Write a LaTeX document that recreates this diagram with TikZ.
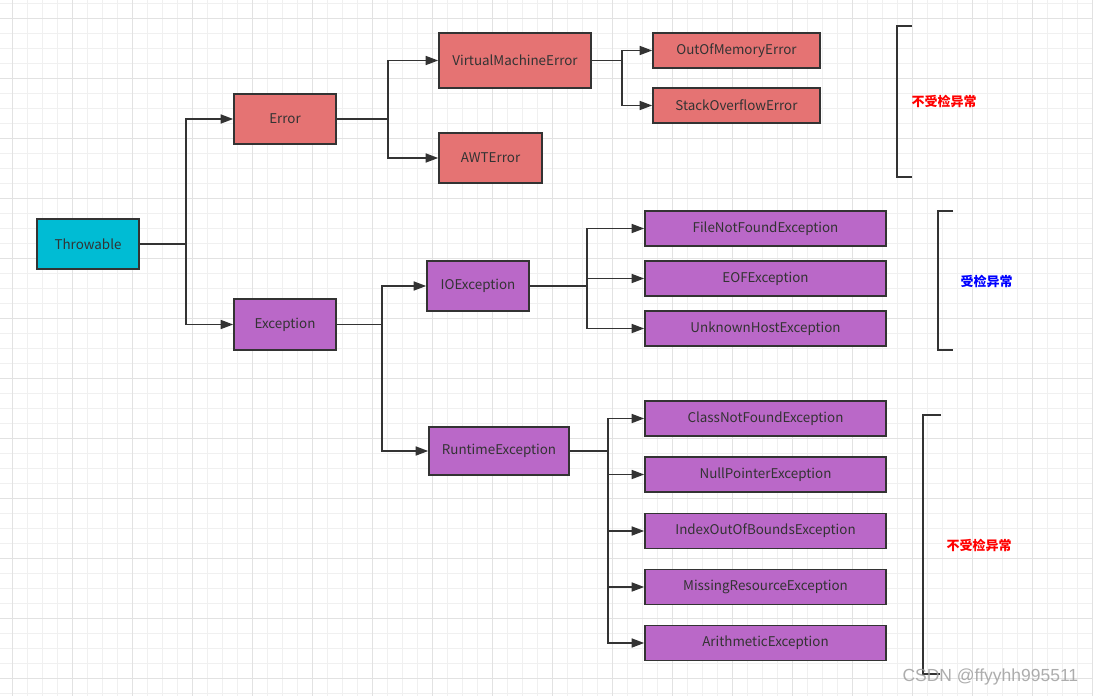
\documentclass[tikz,border=0pt]{standalone}
\usepackage{fontspec}
\setmainfont{Noto Sans CJK SC}
\newfontfamily\wmfont{Liberation Sans}
\usetikzlibrary{arrows.meta}
\definecolor{errfill}{HTML}{E57373}
\definecolor{excfill}{HTML}{BA68C8}
\definecolor{thrfill}{HTML}{00BCD4}
\definecolor{edge}{HTML}{333333}
\definecolor{gridminor}{HTML}{F0F0F0}
\definecolor{gridmajor}{HTML}{E2E2E2}
\definecolor{checkedblue}{HTML}{0000FF}
\tikzset{
  box/.style={draw=edge, line width=1.6pt, rectangle, inner sep=0pt,
    text=edge, font=\fontsize{13.4}{15}\selectfont, anchor=center},
  errbox/.style={box, fill=errfill},
  excbox/.style={box, fill=excfill},
  thrbox/.style={box, fill=thrfill},
  conn/.style={draw=edge, line width=1.5pt},
  arr/.style={conn, -{Triangle[length=12.5pt,width=9pt]}},
  brk/.style={draw=edge, line width=1.6pt},
  note/.style={font=\bfseries\fontsize{13}{15}\selectfont, anchor=west},
}
\begin{document}
\begin{tikzpicture}[x=1pt, y={(0pt,-1pt)}]
\useasboundingbox (0,0) rectangle (1093,696);
\fill[white] (0,0) rectangle (1093,696);
% grid
\foreach \i in {-3,...,73} {\draw[gridminor, line width=0.8pt] ({12+15*\i},0) -- ({12+15*\i},696);}
\foreach \i in {-1,...,46} {\draw[gridminor, line width=0.8pt] (0,{18+15*\i}) -- (1093,{18+15*\i});}
\foreach \i in {0,...,18} {\draw[gridmajor, line width=0.8pt] ({12+60*\i},0) -- ({12+60*\i},696);}
\foreach \i in {-1,...,12} {\draw[gridmajor, line width=0.8pt] (0,{18+60*\i}) -- (1093,{18+60*\i});}

% nodes
\node[thrbox, minimum width=102pt, minimum height=50pt] (thr) at (88,244) {Throwable};
\node[errbox, minimum width=102pt, minimum height=50pt] (err) at (285,119) {Error};
\node[excbox, minimum width=102pt, minimum height=51pt] (exc) at (285,324.5) {Exception};
\node[errbox, minimum width=152pt, minimum height=55pt] (vme) at (515,60.5) {VirtualMachineError};
\node[errbox, minimum width=103pt, minimum height=50pt] (awt) at (490.5,158) {AWTError};
\node[errbox, minimum width=167pt, minimum height=35pt] (oom) at (736.5,50.5) {OutOfMemoryError};
\node[errbox, minimum width=167pt, minimum height=35pt] (soe) at (736.5,105.5) {StackOverflowError};
\node[excbox, minimum width=102pt, minimum height=50pt] (ioe) at (478,286) {IOException};
\node[excbox, minimum width=140pt, minimum height=48pt] (rte) at (499,451) {RuntimeException};
\node[excbox, minimum width=241pt, minimum height=35pt] (fnf) at (765.5,228.5) {FileNotFoundException};
\node[excbox, minimum width=241pt, minimum height=35pt] (eof) at (765.5,278.5) {EOFException};
\node[excbox, minimum width=241pt, minimum height=35pt] (uhe) at (765.5,328.5) {UnknownHostException};
\node[excbox, minimum width=241pt, minimum height=35pt] (cnf) at (765.5,418.5) {ClassNotFoundException};
\node[excbox, minimum width=241pt, minimum height=35pt] (npe) at (765.5,474.5) {NullPointerException};
\node[excbox, minimum width=241pt, minimum height=35pt] (ioob) at (765.5,531) {IndexOutOfBoundsException};
\node[excbox, minimum width=241pt, minimum height=35pt] (mre) at (765.5,587) {MissingResourceException};
\node[excbox, minimum width=241pt, minimum height=35pt] (ari) at (765.5,643) {ArithmeticException};

% junctions
\coordinate (j1) at (186,244);
\coordinate (j2) at (388,119);
\coordinate (j3) at (622,60.5);
\coordinate (j4) at (382,324.5);
\coordinate (j5) at (587,286);
\coordinate (j6) at (608,451);

% connectors
\draw[conn] (thr.east) -- (j1);
\draw[arr] (j1) |- (err.west);
\draw[arr] (j1) |- (exc.west);
\draw[conn] (err.east) -- (j2);
\draw[arr] (j2) |- (vme.west);
\draw[arr] (j2) |- (awt.west);
\draw[conn] (vme.east) -- (j3);
\draw[arr] (j3) |- (oom.west);
\draw[arr] (j3) |- (soe.west);
\draw[conn] (exc.east) -- (j4);
\draw[arr] (j4) |- (ioe.west);
\draw[arr] (j4) |- (rte.west);
\draw[conn] (ioe.east) -- (j5);
\draw[arr] (j5) |- (fnf.west);
\draw[arr] (j5) |- (eof.west);
\draw[arr] (j5) |- (uhe.west);
\draw[conn] (rte.east) -- (j6);
\draw[arr] (j6) |- (cnf.west);
\draw[arr] (j6) |- (npe.west);
\draw[arr] (j6) |- (ioob.west);
\draw[arr] (j6) |- (mre.west);
\draw[arr] (j6) |- (ari.west);

% brackets
\draw[brk] (912,26) -- (897,26) -- (897,177) -- (912,177);
\draw[brk] (953,211) -- (938,211) -- (938,350) -- (953,350);
\draw[brk] (941,415) -- (923,415) -- (923,674) -- (940,674);

% labels
\node[note, text=red] (n1) at (908,101) {不受检异常};
\node[note, text=checkedblue] (n2) at (957,281) {受检异常};
\node[note, text=red] (n3) at (943,545) {不受检异常};

% watermark
\node[anchor=west, text=gray!75, font=\wmfont\fontsize{17.5}{19}\selectfont, opacity=0.85] (wm) at (899,677) {CSDN @ffyyhh995511};
\end{tikzpicture}
\end{document}
